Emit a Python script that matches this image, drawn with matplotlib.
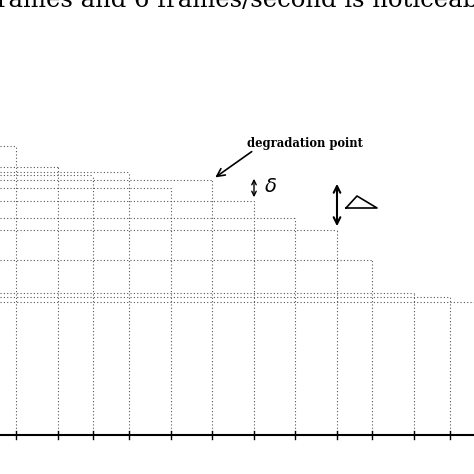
import numpy as np
import matplotlib.pyplot as plt

# step levels (x position, top of vertical line), pixel-like units
step_x = [16, 58, 93, 129, 171, 212, 254, 295, 337, 372, 414, 450]
step_h = [289, 268, 260, 263, 247, 255, 234, 217, 205, 175, 142, 138]
# extra horizontal levels with no vertical end inside the frame
extra_h = [133]
tick_x = step_x

fig = plt.figure(figsize=(4.74, 4.74), dpi=100)
ax = fig.add_axes([0, 0, 1, 1])
ax.set_xlim(0, 474)
ax.set_ylim(435 - 474, 435)
ax.axis('off')

dot = dict(color='#555555', lw=0.8, linestyle=(0, (1, 2)))
for x, h in zip(step_x, step_h):
    ax.plot([x, x], [0, h], **dot)
    ax.plot([0, x], [h, h], **dot)
for h in extra_h:
    ax.plot([0, 474], [h, h], **dot)

# baseline axis with ticks
ax.plot([0, 474], [0, 0], color='black', lw=1.5)
for x in tick_x:
    ax.plot([x, x], [-4, 4], color='black', lw=1)

# annotations
ax.annotate('', xy=(213, 256), xytext=(254, 285),
            arrowprops=dict(arrowstyle='->', color='black', lw=1.2, mutation_scale=14))
ax.text(247, 292, 'degradation point', family='DejaVu Serif', fontweight='bold',
        fontsize=8.3, va='center', ha='left')
ax.annotate('', xy=(254, 235), xytext=(254, 259),
            arrowprops=dict(arrowstyle='<->', color='black', lw=1, mutation_scale=8))
ax.text(264, 248, r'$\delta$', fontsize=14, va='center', ha='left')
ax.annotate('', xy=(337, 206), xytext=(337, 254),
            arrowprops=dict(arrowstyle='<->', color='black', lw=1.5, mutation_scale=12))
tri_x = [346, 357, 377, 346]
tri_y = [227, 239, 227, 227]
ax.plot(tri_x, tri_y, color='black', lw=1.2)

fig.text(-0.025, 1 - 7 / 474, 'frames and 6 frames/second is noticeable',
         family='DejaVu Serif', fontsize=17.5, va='baseline', ha='left')

fig.savefig('out.png', dpi=100)
